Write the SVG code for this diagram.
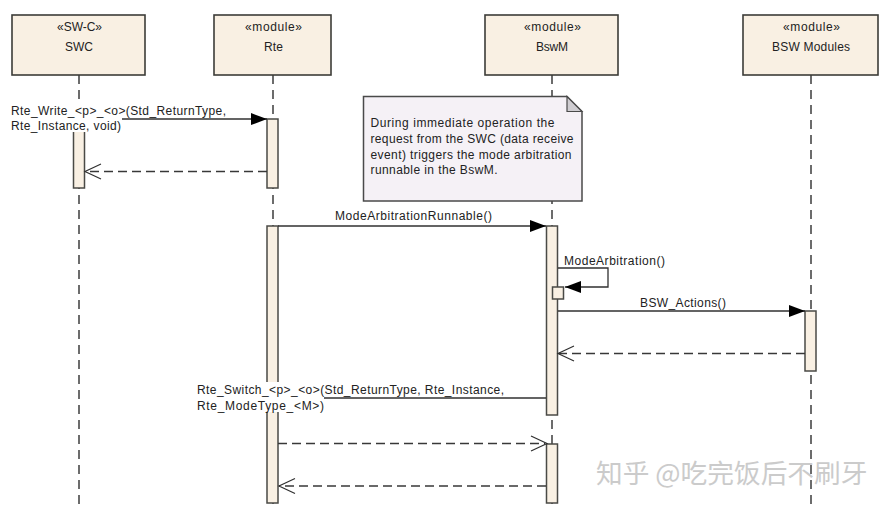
<svg xmlns="http://www.w3.org/2000/svg" width="889" height="510" viewBox="0 0 889 510">
<style>
text{font-family:"Liberation Sans",Arial,sans-serif;font-size:12px;fill:#222}
.box{fill:#f9f0e3;stroke:#3c3c38;stroke-width:1.6}
.act{fill:#f9f0e3;stroke:#4a4a46;stroke-width:1.5}
.life{stroke:#3c3c3c;stroke-width:1.5;stroke-dasharray:9 6;fill:none}
.msg{stroke:#303030;stroke-width:1.3;fill:none}
.ret{stroke:#383838;stroke-width:1.4;fill:none;stroke-dasharray:9 5}
.open{stroke:#303030;stroke-width:1.2;fill:none}
.lbl{fill:#fff;stroke:none}
</style>
<defs>
<marker id="solid" markerUnits="userSpaceOnUse" markerWidth="17" markerHeight="13" refX="16" refY="6" orient="auto"><path d="M0 0L16 6L0 12Z" fill="#000"/></marker>
</defs>
<rect width="889" height="510" fill="#fff"/>
<g id="lifelines">
<path class="life" d="M79 75V510"/><path class="life" d="M273 75V510"/><path class="life" d="M552 75V510"/><path class="life" d="M811 75V510"/>
</g>
<g id="node-swc"><rect class="box" x="12" y="15" width="133" height="60"/><text x="57" y="31" textLength="45">«SW-C»</text><text x="65" y="51" textLength="28">SWC</text></g>
<g id="node-rte"><rect class="box" x="214" y="15" width="117" height="60"/><text x="245" y="31" textLength="57">«module»</text><text x="264" y="51" textLength="19">Rte</text></g>
<g id="node-bswm"><rect class="box" x="485" y="15" width="133" height="60"/><text x="524" y="31" textLength="57">«module»</text><text x="536" y="51" textLength="32">BswM</text></g>
<g id="node-bsw"><rect class="box" x="743" y="15" width="135" height="60"/><text x="783" y="31" textLength="57">«module»</text><text x="772" y="51" textLength="78">BSW Modules</text></g>
<g id="activations">
<rect class="act" x="73.500" y="125" width="11" height="63"/>
<rect class="act" x="267" y="119" width="11" height="69"/>
<rect class="act" x="267" y="226" width="11" height="277"/>
<rect class="act" x="546.500" y="226" width="11" height="189"/>
<rect class="act" x="552.500" y="287" width="11" height="12"/>
<rect class="act" x="546.500" y="444" width="11" height="59"/>
<rect class="act" x="805" y="311" width="11" height="60"/>
</g>
<g id="node-note">
<path d="M363.500 96.500H567L582 111.500V201H363.500Z" fill="#f5f1f6" stroke="#4a4a4a" stroke-width="1.500"/>
<path d="M567 96.500L582 111.500H567Z" fill="#cfcdd1" stroke="#4a4a4a" stroke-width="1.200"/>
<text x="370.500" y="127" textLength="184">During immediate operation the</text>
<text x="370.500" y="143" textLength="203">request from the SWC (data receive</text>
<text x="370.500" y="158.500" textLength="201">event) triggers the mode arbitration</text>
<text x="370.500" y="174" textLength="127">runnable in the BswM.</text>
</g>
<g id="connectors">
<path class="msg" d="M122 119H267" marker-end="url(#solid)"/>
<path class="ret" d="M267 171.500H86"/><path class="open" d="M101 164L85 171.500L101 179"/>
<path class="msg" d="M278 226H546" marker-end="url(#solid)"/>
<path class="msg" d="M558 268H608V287H565" marker-end="url(#solid)"/>
<path class="msg" d="M558 311H805" marker-end="url(#solid)"/>
<path class="ret" d="M805 353.500H559"/><path class="open" d="M574 346L558 353.500L574 361"/>
<path class="msg" d="M546 398H324"/>
<path class="ret" d="M278 443.500H545"/><path class="open" d="M531 436L547 443.500L531 451"/>
<path class="ret" d="M546 486H279"/><path class="open" d="M295 478.500L279 486L295 493.500"/>
</g>
<g id="labels">
<rect class="lbl" x="10" y="102" width="112" height="30"/>
<rect class="lbl" x="122" y="102" width="108" height="14"/>
<rect class="lbl" x="196" y="382" width="128" height="30"/>
<rect class="lbl" x="324" y="382" width="182" height="14"/>
<text x="11" y="114.500" textLength="215">Rte_Write_&lt;p&gt;_&lt;o&gt;(Std_ReturnType,</text>
<text x="11" y="130" textLength="110">Rte_Instance, void)</text>
<text x="335" y="220" textLength="157">ModeArbitrationRunnable()</text>
<text x="564" y="265" textLength="101">ModeArbitration()</text>
<text x="640" y="306.500" textLength="86">BSW_Actions()</text>
<text x="197" y="394" textLength="307">Rte_Switch_&lt;p&gt;_&lt;o&gt;(Std_ReturnType, Rte_Instance,</text>
<text x="197" y="410" textLength="127">Rte_ModeType_&lt;M&gt;)</text>
</g>
<text x="596" y="483" style="font-family:'Noto Sans CJK SC','Liberation Sans',sans-serif;font-size:26.700px;fill:#cbcbcb">知乎 @吃完饭后不刷牙</text>
</svg>
